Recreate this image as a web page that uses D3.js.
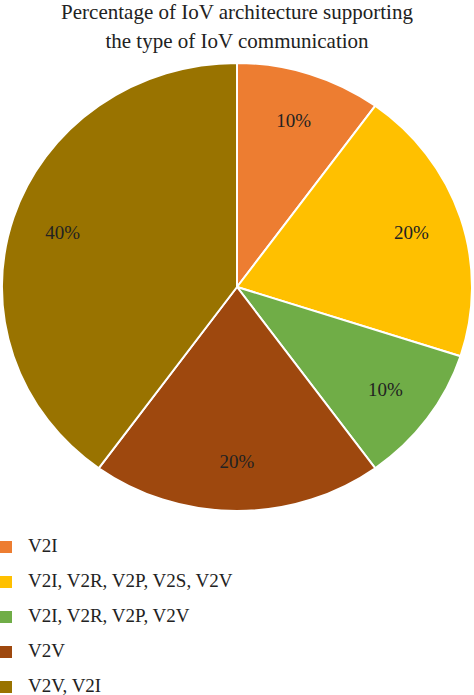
<!DOCTYPE html>
<html><head><meta charset="utf-8">
<script src="https://d3js.org/d3.v7.min.js"></script>
<style>body{margin:0;background:#fff}</style></head>
<body><svg id="c" width="474" height="695"></svg>
<script>
const categories = ["V2I","V2I, V2R, V2P, V2S, V2V","V2I, V2R, V2P, V2V","V2V","V2V, V2I"];
const values = [10,20,10,20,40];
const colors = ["#ED7D31","#FFC000","#70AD47","#9E480E","#997300"];
const title = ["Percentage of IoV architecture supporting","the type of IoV communication"];

const svg = d3.select("#c");
const font = "'Liberation Serif', serif";
svg.selectAll("text.t").data(title).enter().append("text")
  .attr("x",237).attr("y",(d,i)=>19+i*29).attr("text-anchor","middle")
  .attr("font-family",font).attr("font-size",21).attr("fill","#222").text(d=>d);

const cx=237, cy=287, rx=235, ry=224;
const pie = d3.pie().sort(null)(values);
const arc = d3.arc().innerRadius(0).outerRadius(1);
const g = svg.append("g").attr("transform",`translate(${cx},${cy}) scale(${rx},${ry})`);
g.selectAll("path").data(pie).enter().append("path")
  .attr("d",arc).attr("fill",(d,i)=>colors[i])
  .attr("stroke","#fff").attr("stroke-width",2).attr("vector-effect","non-scaling-stroke");
const la = d3.arc().innerRadius(0.78).outerRadius(0.78);
svg.selectAll("text.l").data(pie).enter().append("text")
  .attr("x",d=>cx+la.centroid(d)[0]*rx).attr("y",d=>cy+la.centroid(d)[1]*ry+6)
  .attr("text-anchor","middle").attr("font-family",font).attr("font-size",19).attr("fill","#222")
  .text(d=>d.data+"%");

const lg = svg.selectAll("g.lg").data(categories).enter().append("g")
  .attr("transform",(d,i)=>`translate(0,${547+i*35})`);
lg.append("rect").attr("x",0).attr("y",-6).attr("width",12).attr("height",12).attr("fill",(d,i)=>colors[i]);
lg.append("text").attr("x",28).attr("y",5).attr("font-family",font).attr("font-size",19).attr("fill","#222").text(d=>d);
</script></body></html>
